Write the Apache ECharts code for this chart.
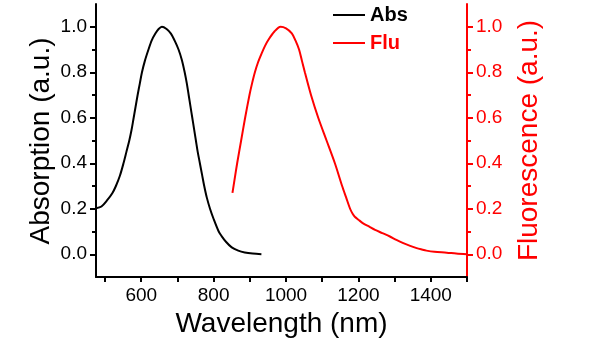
<!DOCTYPE html>
<html>
<head>
<meta charset="utf-8">
<script src="https://cdn.jsdelivr.net/npm/echarts@6/dist/echarts.min.js"></script>
<style>
html,body{margin:0;padding:0;background:#fff;}
#chart{width:590px;height:348px;}
</style>
</head>
<body>
<div id="chart"></div>
<script>
// Absorption spectrum
var absWavelength = [475, 490, 507, 520, 530, 541, 551, 559, 567, 573, 578, 584, 590, 596, 602, 610, 620, 629, 639, 648, 657, 670, 682, 692, 703, 712, 720, 726, 731, 736, 741, 746, 751, 756, 762, 768, 774, 781, 790, 800, 814, 822, 834, 850, 868, 886, 908, 932];
var absValues = [0.202, 0.21, 0.24, 0.268, 0.30, 0.345, 0.40, 0.45, 0.50, 0.545, 0.59, 0.645, 0.70, 0.75, 0.80, 0.85, 0.90, 0.94, 0.97, 0.99, 1.0, 0.99, 0.97, 0.94, 0.90, 0.855, 0.80, 0.75, 0.70, 0.65, 0.60, 0.55, 0.50, 0.45, 0.40, 0.35, 0.30, 0.25, 0.20, 0.155, 0.10, 0.08, 0.055, 0.03, 0.016, 0.008, 0.003, 0.0];
// Fluorescence spectrum
var fluWavelength = [852, 858, 865, 876, 887, 899, 906, 914, 923, 933, 942, 951, 968, 985, 1000, 1016, 1026, 1036, 1044, 1052, 1069, 1089, 1112, 1135, 1155, 1166, 1177, 1184, 1190, 1200, 1213, 1230, 1246, 1266, 1287, 1305, 1324, 1343, 1361, 1375, 1388, 1410, 1444, 1470, 1500];
var fluValues = [0.27, 0.33, 0.40, 0.50, 0.60, 0.70, 0.75, 0.80, 0.845, 0.884, 0.916, 0.942, 0.979, 1.0, 0.993, 0.971, 0.94, 0.90, 0.85, 0.80, 0.70, 0.60, 0.50, 0.40, 0.30, 0.25, 0.20, 0.178, 0.165, 0.152, 0.136, 0.121, 0.107, 0.093, 0.078, 0.063, 0.049, 0.037, 0.027, 0.021, 0.016, 0.011, 0.007, 0.003, 0.0];
// Ticks
var xTickLabels = [600, 800, 1000, 1200, 1400];
var xTicks = [500, 600, 700, 800, 900, 1000, 1100, 1200, 1300, 1400, 1500];
var yTickLabels = [0, 0.2, 0.4, 0.6, 0.8, 1.0];
var yMinorTicks = [0.1, 0.3, 0.5, 0.7, 0.9];
var leftTitle = 'Absorption (a.u.)';

function zip(a, b) { return a.map(function (v, i) { return [v, b[i]]; }); }

var FONT = "'Liberation Sans', Arial, sans-serif";
var RED = '#ff0000';
var BLACK = '#000000';

function yAxisMajor(pos, color, name, gap) {
  return {
    type: 'value', position: pos, min: -0.1, max: 1.1,
    splitLine: { show: false },
    axisLine: { show: true, lineStyle: { color: color, width: 2 } },
    axisTick: { show: true, customValues: yTickLabels, length: 6, lineStyle: { color: color, width: 2 } },
    axisLabel: { customValues: yTickLabels, color: color, fontSize: 19, fontFamily: FONT, margin: 9,
      formatter: function (v) { return v.toFixed(1); } },
    name: name, nameLocation: 'middle', nameRotate: 90, nameGap: gap,
    nameTextStyle: { color: color, fontSize: 28, fontFamily: FONT }
  };
}
function yAxisMinor(pos, color) {
  return {
    type: 'value', position: pos, min: -0.1, max: 1.1,
    splitLine: { show: false },
    axisLine: { show: false },
    axisTick: { show: true, customValues: yMinorTicks, length: 4, lineStyle: { color: color, width: 2 } },
    axisLabel: { show: false }
  };
}

var chart = echarts.init(document.getElementById('chart'), null, { renderer: 'canvas' });
chart.setOption({
  animation: false,
  backgroundColor: '#ffffff',
  grid: { left: 96, right: 123, top: 4, bottom: 71, containLabel: false },
  graphic: [{
    type: 'text', x: 41, y: 141, rotation: Math.PI / 2,
    style: { text: leftTitle, fill: BLACK, fontSize: 28, fontFamily: FONT, align: 'center', verticalAlign: 'middle' }
  }],
  legend: {
    orient: 'vertical', left: 333, top: 5, padding: 0, itemWidth: 32, itemHeight: 2, itemGap: 8,
    icon: 'rect',
    textStyle: { fontSize: 20, fontWeight: 'bold', fontFamily: FONT },
    data: [
      { name: 'Abs', textStyle: { color: BLACK } },
      { name: 'Flu', textStyle: { color: RED } }
    ]
  },
  xAxis: {
    type: 'value', min: 475, max: 1500,
    splitLine: { show: false },
    axisLine: { show: true, onZero: false, lineStyle: { color: BLACK, width: 2 } },
    axisTick: { show: true, customValues: xTicks, length: 5, lineStyle: { color: BLACK, width: 2 } },
    axisLabel: { customValues: xTickLabels, color: BLACK, fontSize: 19, fontFamily: FONT, margin: 9,
      formatter: function (v) { return String(v); } },
    name: 'Wavelength (nm)', nameLocation: 'middle', nameGap: 32,
    nameTextStyle: { color: BLACK, fontSize: 28, fontFamily: FONT }
  },
  yAxis: [
    yAxisMajor('left', BLACK, '', 40),
    yAxisMinor('left', BLACK),
    yAxisMajor('right', RED, 'Fluorescence (a.u.)', 48),
    yAxisMinor('right', RED)
  ],
  series: [
    { name: 'Abs', type: 'line', yAxisIndex: 0, data: zip(absWavelength, absValues),
      showSymbol: false, symbol: 'none', smooth: 0.3, color: BLACK,
      lineStyle: { color: BLACK, width: 2 } },
    { name: 'Flu', type: 'line', yAxisIndex: 2, data: zip(fluWavelength, fluValues),
      showSymbol: false, symbol: 'none', smooth: 0.3, color: RED,
      lineStyle: { color: RED, width: 2 } }
  ]
});
</script>
</body>
</html>
